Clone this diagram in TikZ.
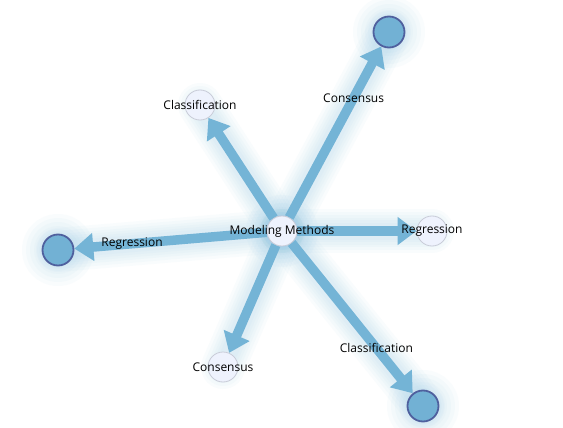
\documentclass[tikz,border=0pt]{standalone}
\usepackage{fontspec}
\setmainfont{Open Sans}
\usetikzlibrary{arrows.meta}
\definecolor{edgec}{HTML}{74B4D6}
\definecolor{glowc}{HTML}{9CCDE7}
\definecolor{bluefill}{HTML}{72B1D4}
\definecolor{blueborder}{HTML}{4F609E}
\definecolor{whitefill}{HTML}{EEF2FD}
\definecolor{whiteborder}{HTML}{C9CCD8}
\pgfdeclarelayer{bglayer}
\pgfdeclarelayer{glowlayer}
\pgfdeclarelayer{edgelayer}
\pgfsetlayers{bglayer,glowlayer,edgelayer,main}
\tikzset{
  elabel/.style={font=\fontsize{12}{14}\selectfont, text=black, inner sep=0pt},
  wnode/.style={circle, minimum size=30pt, inner sep=0pt, fill=whitefill, draw=whiteborder, line width=0.8pt},
  bnode/.style={circle, minimum size=31pt, inner sep=0pt, fill=bluefill, draw=blueborder, line width=1.8pt},
  edge/.style={draw=edgec, line width=9.5pt, -{Triangle[length=19pt,width=27pt]}},
  glowline/.style={draw=glowc, line cap=round, opacity=0.06},
}
\begin{document}
\begin{tikzpicture}[x=1pt,y=-1pt]
\begin{pgfonlayer}{bglayer}
  \fill[white] (0,0) rectangle (563,428);
\end{pgfonlayer}
\useasboundingbox (0,0) rectangle (563,428);
\node[wnode, label={[elabel]center:Modeling Methods}] (mm) at (282,231) {};
\node[wnode, label={[elabel]center:Classification}] (cl) at (200,105) {};
\node[wnode, label={[elabel]center:Regression}] (rg) at (432,231) {};
\node[wnode, label={[elabel]center:Consensus}] (cs) at (223,367) {};
\node[bnode] (b1) at (389,32) {};
\node[bnode] (b2) at (58,250) {};
\node[bnode] (b3) at (423,406) {};
\begin{pgfonlayer}{glowlayer}
  \foreach \t in {cl,rg,cs,b1,b2,b3}{
    \foreach \w in {44,38,32,27,22,17}{
      \draw[glowline, line width=\w pt] (mm.center) -- (\t.center);
    }
  }
  \foreach \t in {b1,b2,b3,mm}{
    \foreach \r in {36,32,28,24,21,18}{
      \fill[glowc, opacity=0.06] (\t.center) circle[radius=\r pt];
    }
  }
\end{pgfonlayer}
\begin{pgfonlayer}{edgelayer}
  \draw[edge] (mm) -- (cl);
  \draw[edge] (mm) -- (rg);
  \draw[edge] (mm) -- (cs);
  \draw[edge] (mm) -- node[pos=0.7, elabel] (l1) {Consensus} (b1);
  \draw[edge] (mm) -- node[pos=0.7, elabel] (l2) {Regression} (b2);
  \draw[edge] (mm) -- node[pos=0.7, elabel] (l3) {Classification} (b3);
\end{pgfonlayer}
\end{tikzpicture}
\end{document}
